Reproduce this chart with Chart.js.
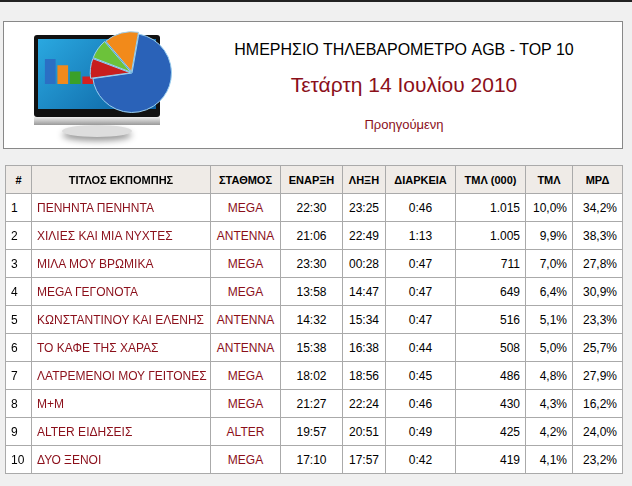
<!DOCTYPE html>
<html><head><meta charset="utf-8">
<script src="https://cdn.jsdelivr.net/npm/chart.js@4"></script>
<style>
body{margin:0;width:632px;height:486px;background:#f0f0f0;font-family:"Liberation Sans",Arial,sans-serif;overflow:hidden;position:relative}
#topline{position:absolute;left:0;top:0;width:632px;height:2px;background:#222}
#box{position:absolute;left:3px;top:21px;width:618px;height:126px;background:#fff;border:1px solid #888}
#mon{position:absolute;left:30px;top:13px;width:126px;height:82px;background:#111;border-radius:3px}
#scr{position:absolute;left:4px;top:4px;width:118px;height:70px;background:linear-gradient(135deg,#2aa8e0,#0b5e9e)}
#base{position:absolute;left:30px;top:95px;width:126px;height:8px;background:linear-gradient(#eee,#999)}
#stand{position:absolute;left:58px;top:103px;width:70px;height:12px;border-radius:50%;background:#ddd;box-shadow:0 4px 6px #999}
#pie{position:absolute;left:85px;top:8px;width:86px;height:86px}
#bars{position:absolute;left:6px;top:20px;width:50px;height:52px}
#t1{position:absolute;left:190px;top:19px;width:420px;text-align:center;font-size:16px;color:#000}
#t2{position:absolute;left:190px;top:51px;width:420px;text-align:center;font-size:21px;color:#8b0f1a}
#t3{position:absolute;left:190px;top:95px;width:420px;text-align:center;font-size:13px;color:#8b0f1a}
table{position:absolute;left:5px;top:165px;border-collapse:collapse;font-size:12px;background:#fff;table-layout:fixed}
td,th{border:1px solid #aaa;height:27px;padding:0 5px;white-space:nowrap;overflow:hidden}
th{background:#efebe7;font-weight:bold;color:#000;text-align:center;font-size:11px}
td{color:#000}
.r{color:#8b0f1a}.c{text-align:center}.n{text-align:right}
</style></head><body>
<div id="topline"></div>
<div id="box">
 <div id="mon"><div id="scr"><canvas id="bars"></canvas></div></div>
 <div id="base"></div><div id="stand"></div>
 <canvas id="pie"></canvas>
 <div id="t1">ΗΜΕΡΗΣΙΟ ΤΗΛΕΒΑΡΟΜΕΤΡΟ AGB - TOP 10</div>
 <div id="t2">Τετάρτη 14 Ιουλίου 2010</div>
 <div id="t3">Προηγούμενη</div>
</div>
<table id="tbl"></table>
<script>
const headers=["#","ΤΙΤΛΟΣ ΕΚΠΟΜΠΗΣ","ΣΤΑΘΜΟΣ","ΕΝΑΡΞΗ","ΛΗΞΗ","ΔΙΑΡΚΕΙΑ","ΤΜΛ (000)","ΤΜΛ","ΜΡΔ"];
const colWidths=[26,179,70,62,43,70,70,47,50];
const titles=["ΠΕΝΗΝΤΑ ΠΕΝΗΝΤΑ","ΧΙΛΙΕΣ ΚΑΙ ΜΙΑ ΝΥΧΤΕΣ","ΜΙΛΑ ΜΟΥ ΒΡΩΜΙΚΑ","MEGA ΓΕΓΟΝΟΤΑ","ΚΩΝΣΤΑΝΤΙΝΟΥ ΚΑΙ ΕΛΕΝΗΣ","ΤΟ ΚΑΦΕ ΤΗΣ ΧΑΡΑΣ","ΛΑΤΡΕΜΕΝΟΙ ΜΟΥ ΓΕΙΤΟΝΕΣ","Μ+Μ","ALTER ΕΙΔΗΣΕΙΣ","ΔΥΟ ΞΕΝΟΙ"];
const stations=["MEGA","ΑΝΤΕΝΝΑ","MEGA","MEGA","ΑΝΤΕΝΝΑ","ΑΝΤΕΝΝΑ","MEGA","MEGA","ALTER","MEGA"];
const starts=["22:30","21:06","23:30","13:58","14:32","15:38","18:02","21:27","19:57","17:10"];
const ends=["23:25","22:49","00:28","14:47","15:34","16:38","18:56","22:24","20:51","17:57"];
const durations=["0:46","1:13","0:47","0:47","0:47","0:44","0:45","0:46","0:49","0:42"];
const viewers=["1.015","1.005","711","649","516","508","486","430","425","419"];
const ratings=["10,0%","9,9%","7,0%","6,4%","5,1%","5,0%","4,8%","4,3%","4,2%","4,1%"];
const shares=["34,2%","38,3%","27,8%","30,9%","23,3%","25,7%","27,9%","16,2%","24,0%","23,2%"];
const iconBars=[60,45,30,18];
const iconPie=[70,8,8,14];

let h="<colgroup>"+colWidths.map(w=>`<col style="width:${w}px">`).join("")+"</colgroup>";
h+="<tr>"+headers.map(x=>`<th>${x}</th>`).join("")+"</tr>";
titles.forEach((t,i)=>{h+=`<tr><td>${i+1}</td><td class="r">${t}</td><td class="r c">${stations[i]}</td><td class="c">${starts[i]}</td><td class="c">${ends[i]}</td><td class="c">${durations[i]}</td><td class="n">${viewers[i]}</td><td class="n">${ratings[i]}</td><td class="n">${shares[i]}</td></tr>`});
const tb=document.getElementById("tbl");tb.innerHTML=h;tb.style.width=colWidths.reduce((a,b)=>a+b,0)+"px";

new Chart(document.getElementById("bars"),{type:"bar",data:{labels:["a","b","c","d"],datasets:[{data:iconBars,backgroundColor:["#2b6fc4","#f08a1c","#3aa02a","#d42020"],categoryPercentage:0.95,barPercentage:0.9}]},
options:{responsive:false,animation:false,plugins:{legend:{display:false},tooltip:{enabled:false}},scales:{x:{display:false},y:{display:false,min:0,max:60}}}});
new Chart(document.getElementById("pie"),{type:"pie",data:{labels:["a","b","c","d"],datasets:[{data:iconPie,backgroundColor:["#2a62b8","#c81e1e","#6cc23a","#f28a1a"],borderColor:"#9cd0f0",borderWidth:1,offset:[0,6,6,6]}]},
options:{responsive:false,animation:false,rotation:10,plugins:{legend:{display:false},tooltip:{enabled:false}}}});
</script></body></html>
